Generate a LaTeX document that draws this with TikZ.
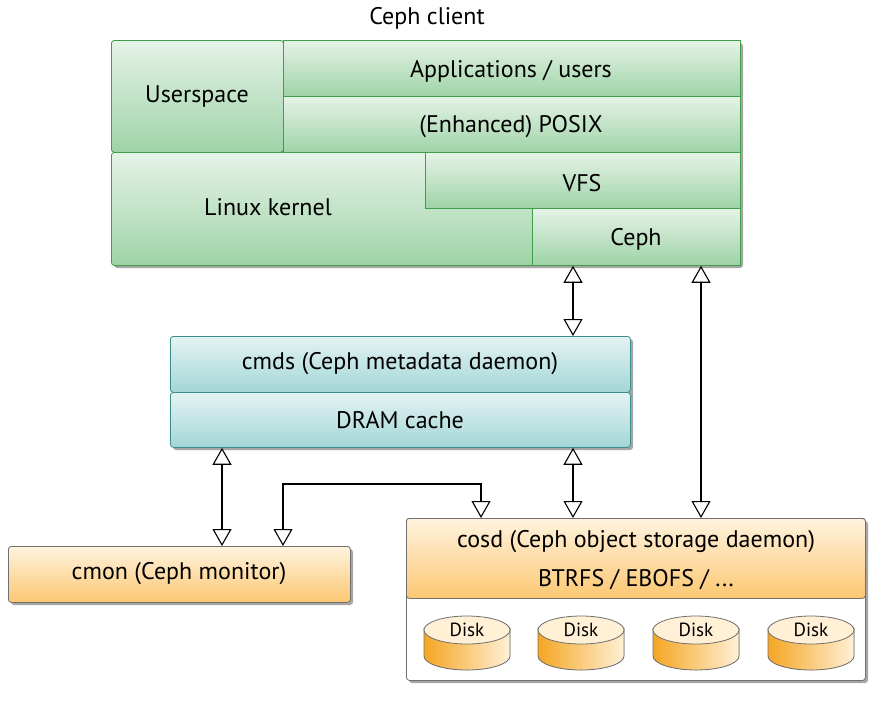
\documentclass[tikz,border=0pt]{standalone}
\usepackage{fontspec}
\setmainfont{PT Sans}
\usetikzlibrary{shadows,arrows.meta,shapes.geometric}
\definecolor{gT}{HTML}{E6F3E8}\definecolor{gB}{HTML}{9ED3A6}\definecolor{gS}{HTML}{3E9E4A}
\definecolor{tT}{HTML}{E4F3F3}\definecolor{tB}{HTML}{A3D6D6}\definecolor{tS}{HTML}{3C8E8E}
\definecolor{oT}{HTML}{FFF3DE}\definecolor{oB}{HTML}{FCC772}\definecolor{oS}{HTML}{707070}
\definecolor{dL}{HTML}{F5A623}\definecolor{dR}{HTML}{FFF0D6}
\tikzset{
 x=1pt,y=-1pt,
 every node/.style={font=\fontsize{24}{28}\selectfont, inner sep=0pt},
 gbox/.style={draw=gS, line width=0.8pt, top color=gT, bottom color=gB, anchor=north west},
 tbox/.style={draw=tS, line width=0.8pt, top color=tT, bottom color=tB, anchor=north west},
 obox/.style={draw=oS, line width=0.8pt, top color=oT, bottom color=oB, anchor=north west},
 tip/.style={Triangle[open,width=19pt,length=17pt]},
 con/.style={line width=1.1pt, {Triangle[open,width=19pt,length=17pt]}-{Triangle[open,width=19pt,length=17pt]}},
}
\newcommand{\bx}[7]{\node[#1,minimum width=#4-#2,minimum height=#5-#3,#7] (#6) at (#2,#3) {};}
\newcommand{\disk}[2]{%
 \fill[left color=dL,right color=dR,draw=oS,line width=0.8pt] (#1-43,628) -- (#1-43,656) arc[start angle=180,end angle=360,x radius=43,y radius=-14] -- (#1+43,628) -- cycle;
 \node[draw=oS,line width=0.8pt,fill=dR,ellipse,minimum width=86pt,minimum height=28pt,font=\fontsize{19}{22}\selectfont] (#2) at (#1,630) {Disk};}
\begin{document}
\begin{tikzpicture}
\useasboundingbox (0,0) rectangle (890,702);
\node (title) at (427,18) {Ceph client};
\fill[black!35,rounded corners=3pt] (114,43) rectangle (743,268);
\bx{gbox}{111}{152}{740}{265}{kernel}{rounded corners=3pt}
\bx{gbox}{111}{40}{283}{152}{user}{rounded corners=3pt}
\bx{gbox}{283}{40}{740}{96}{apps}{}
\bx{gbox}{283}{96}{740}{152}{posix}{}
\bx{gbox}{425}{152}{740}{208}{vfs}{}
\bx{gbox}{532}{208}{740}{265}{ceph}{}
\node at (197,96) {Userspace};
\node at (511,71) {Applications / users};
\node at (511,127) {(Enhanced) POSIX};
\node at (268,207) {Linux kernel};
\node at (582,183) {VFS};
\node at (636,239) {Ceph};
\fill[black!35,rounded corners=3pt] (173,339) rectangle (633,450);
\bx{tbox}{170}{336}{630}{392}{cmds}{rounded corners=3pt}
\bx{tbox}{170}{392}{630}{447}{dram}{rounded corners=3pt}
\node at (400,364) {cmds (Ceph metadata daemon)};
\node at (400,420) {DRAM cache};
\fill[black!35,rounded corners=3pt] (11,549) rectangle (353,605);
\bx{obox}{8}{546}{350}{602}{cmon}{rounded corners=3pt}
\node at (179,574) {cmon (Ceph monitor)};
\fill[black!35,rounded corners=3pt] (409,521) rectangle (868,683);
\node[draw=oS,line width=0.8pt,fill=white,rounded corners=3pt,minimum width=459pt,minimum height=162pt,anchor=north west] (cosdo) at (406,518) {};
\bx{obox}{406}{518}{865}{598}{cosd}{rounded corners=3pt}
\node at (636,542) {cosd (Ceph object storage daemon)};
\node at (636,580) {BTRFS / EBOFS / ...};
\disk{467}{d1}\disk{581}{d2}\disk{696}{d3}\disk{811}{d4}
\draw[con] (ceph.south -| 573,0) -- (cmds.north -| 573,0);
\draw[con] (ceph.south -| 701,0) -- (cosd.north -| 701,0);
\draw[con] (dram.south -| 573,0) -- (cosd.north -| 573,0);
\draw[con] (dram.south -| 222,0) -- (cmon.north -| 222,0);
\draw[con] (cmon.north -| 283,0) -- (283,484) -- (481,484) -- (cosd.north -| 481,0);
\end{tikzpicture}
\end{document}
